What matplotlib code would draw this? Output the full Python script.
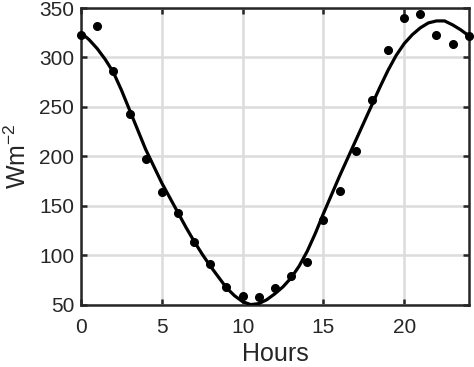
import numpy as np
import matplotlib
matplotlib.use('Agg')
import matplotlib.pyplot as plt

plt.rcParams['font.family'] = ['Liberation Sans', 'DejaVu Sans']
plt.rcParams['mathtext.default'] = 'regular'

# hourly observations (dots)
hours = np.arange(0, 25)
obs = [323, 332, 286, 243, 197, 164, 143, 113, 91, 68, 59, 58, 67,
       79, 93, 136, 165, 205, 257, 308, 340, 344, 323, 314, 322]

# fitted curve, read every half hour
fit_hours = np.arange(0, 24.5, 0.5)
fit_vals = [325, 318, 309, 298, 285, 267, 247, 227, 207, 190, 173, 158,
            143, 128, 114, 101, 89, 78, 67, 59, 53, 50, 51, 55, 61, 68,
            77, 89, 104, 122, 142, 161, 180, 198, 216, 234, 252, 270,
            287, 302, 314, 323, 330, 335, 337, 337, 333, 328, 322]

dark = '#262626'

fig = plt.figure(figsize=(4.74, 3.67), dpi=100)
ax = fig.add_axes([0.171, 0.170, 0.818, 0.808])

ax.plot(fit_hours, fit_vals, color='black', lw=2.3, zorder=3)
ax.plot(hours, obs, 'o', color='black', ms=5.5, clip_on=False, zorder=4)

ax.set_xlim(0, 24)
ax.set_ylim(50, 350)
ax.set_xticks([0, 5, 10, 15, 20])
ax.set_yticks(range(50, 351, 50))
ax.grid(True, color='#dcdcdc', lw=1.8)
ax.set_axisbelow(True)

for s in ax.spines.values():
    s.set_linewidth(1.8)
    s.set_color(dark)
ax.tick_params(direction='in', length=4, width=1.8, top=True, right=True,
               labelsize=15, colors=dark)
ax.tick_params(axis='x', pad=10)
ax.tick_params(axis='y', pad=5)

ax.set_xlabel('Hours', fontsize=18, labelpad=3, color=dark)
ax.set_ylabel('Wm$^{-2}$', fontsize=18, labelpad=6, color=dark)

fig.savefig('out.png', dpi=100)
